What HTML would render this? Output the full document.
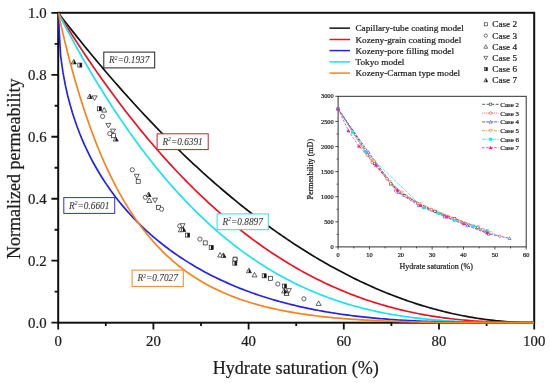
<!DOCTYPE html><html><head><meta charset="utf-8"><title>Normalized permeability vs hydrate saturation</title>
<style>html,body{margin:0;padding:0;background:#fff}svg{display:block}text{font-family:"Liberation Serif","Times New Roman",serif;fill:#1c1c1c;stroke:#1c1c1c;stroke-width:0.22px}text.r{fill:#383838;stroke:#383838;stroke-width:0.08px}</style></head><body>
<svg width="550" height="383" viewBox="0 0 550 383">
<rect width="550" height="383" fill="#fff"/>
<defs><clipPath id="c"><rect x="58.2" y="12.8" width="476.00000000000006" height="311.09999999999997"/></clipPath></defs>
<rect x="58.2" y="12.8" width="476.00000000000006" height="309.9" fill="none" stroke="#111" stroke-width="2"/>
<path d="M58.20,322.7 V329.5 M105.80,322.7 V326.09999999999997 M153.40,322.7 V329.5 M201.00,322.7 V326.09999999999997 M248.60,322.7 V329.5 M296.20,322.7 V326.09999999999997 M343.80,322.7 V329.5 M391.40,322.7 V326.09999999999997 M439.00,322.7 V329.5 M486.60,322.7 V326.09999999999997 M534.20,322.7 V329.5 M58.2,322.70 H51.400000000000006 M58.2,291.71 H54.6 M58.2,260.72 H51.400000000000006 M58.2,229.73 H54.6 M58.2,198.74 H51.400000000000006 M58.2,167.75 H54.6 M58.2,136.76 H51.400000000000006 M58.2,105.77 H54.6 M58.2,74.78 H51.400000000000006 M58.2,43.79 H54.6 M58.2,12.80 H51.400000000000006" stroke="#111" stroke-width="1.8" fill="none"/>
<g fill="none" stroke-width="1.7" stroke-linejoin="round" clip-path="url(#c)">
<path d="M58.20,12.80 L60.58,15.89 L62.96,18.97 L65.34,22.03 L67.72,25.07 L70.10,28.10 L72.48,31.12 L74.86,34.11 L77.24,37.10 L79.62,40.06 L82.00,43.02 L84.38,45.95 L86.76,48.87 L89.14,51.78 L91.52,54.67 L93.90,57.54 L96.28,60.40 L98.66,63.24 L101.04,66.07 L103.42,68.88 L105.80,71.68 L108.18,74.46 L110.56,77.23 L112.94,79.98 L115.32,82.71 L117.70,85.43 L120.08,88.14 L122.46,90.83 L124.84,93.50 L127.22,96.16 L129.60,98.80 L131.98,101.42 L134.36,104.03 L136.74,106.63 L139.12,109.21 L141.50,111.77 L143.88,114.32 L146.26,116.86 L148.64,119.37 L151.02,121.88 L153.40,124.36 L155.78,126.84 L158.16,129.29 L160.54,131.73 L162.92,134.16 L165.30,136.57 L167.68,138.96 L170.06,141.34 L172.44,143.70 L174.82,146.05 L177.20,148.38 L179.58,150.70 L181.96,153.00 L184.34,155.28 L186.72,157.55 L189.10,159.81 L191.48,162.05 L193.86,164.27 L196.24,166.48 L198.62,168.67 L201.00,170.85 L203.38,173.01 L205.76,175.16 L208.14,177.29 L210.52,179.40 L212.90,181.50 L215.28,183.59 L217.66,185.65 L220.04,187.71 L222.42,189.75 L224.80,191.77 L227.18,193.77 L229.56,195.76 L231.94,197.74 L234.32,199.70 L236.70,201.65 L239.08,203.57 L241.46,205.49 L243.84,207.39 L246.22,209.27 L248.60,211.14 L250.98,212.99 L253.36,214.82 L255.74,216.64 L258.12,218.45 L260.50,220.24 L262.88,222.01 L265.26,223.77 L267.64,225.52 L270.02,227.24 L272.40,228.96 L274.78,230.65 L277.16,232.33 L279.54,234.00 L281.92,235.65 L284.30,237.28 L286.68,238.90 L289.06,240.51 L291.44,242.10 L293.82,243.67 L296.20,245.22 L298.58,246.77 L300.96,248.29 L303.34,249.80 L305.72,251.30 L308.10,252.78 L310.48,254.24 L312.86,255.69 L315.24,257.13 L317.62,258.54 L320.00,259.95 L322.38,261.33 L324.76,262.70 L327.14,264.06 L329.52,265.40 L331.90,266.72 L334.28,268.03 L336.66,269.33 L339.04,270.61 L341.42,271.87 L343.80,273.12 L346.18,274.35 L348.56,275.56 L350.94,276.77 L353.32,277.95 L355.70,279.12 L358.08,280.27 L360.46,281.41 L362.84,282.54 L365.22,283.64 L367.60,284.74 L369.98,285.81 L372.36,286.88 L374.74,287.92 L377.12,288.95 L379.50,289.97 L381.88,290.97 L384.26,291.95 L386.64,292.92 L389.02,293.87 L391.40,294.81 L393.78,295.73 L396.16,296.64 L398.54,297.53 L400.92,298.40 L403.30,299.26 L405.68,300.11 L408.06,300.94 L410.44,301.75 L412.82,302.55 L415.20,303.33 L417.58,304.10 L419.96,304.85 L422.34,305.59 L424.72,306.31 L427.10,307.01 L429.48,307.70 L431.86,308.37 L434.24,309.03 L436.62,309.68 L439.00,310.30 L441.38,310.92 L443.76,311.51 L446.14,312.09 L448.52,312.66 L450.90,313.21 L453.28,313.74 L455.66,314.26 L458.04,314.77 L460.42,315.25 L462.80,315.73 L465.18,316.18 L467.56,316.63 L469.94,317.05 L472.32,317.46 L474.70,317.86 L477.08,318.24 L479.46,318.60 L481.84,318.95 L484.22,319.28 L486.60,319.60 L488.98,319.90 L491.36,320.19 L493.74,320.46 L496.12,320.72 L498.50,320.96 L500.88,321.18 L503.26,321.39 L505.64,321.58 L508.02,321.76 L510.40,321.93 L512.78,322.07 L515.16,322.20 L517.54,322.32 L519.92,322.42 L522.30,322.51 L524.68,322.58 L527.06,322.63 L529.44,322.67 L531.82,322.69 L534.20,322.70" stroke="#111111"/>
<path d="M58.20,12.80 L60.58,16.66 L62.96,20.49 L65.34,24.29 L67.72,28.06 L70.10,31.81 L72.48,35.52 L74.86,39.21 L77.24,42.87 L79.62,46.50 L82.00,50.10 L84.38,53.67 L86.76,57.21 L89.14,60.73 L91.52,64.22 L93.90,67.68 L96.28,71.11 L98.66,74.52 L101.04,77.89 L103.42,81.24 L105.80,84.56 L108.18,87.86 L110.56,91.12 L112.94,94.36 L115.32,97.57 L117.70,100.76 L120.08,103.91 L122.46,107.04 L124.84,110.15 L127.22,113.22 L129.60,116.27 L131.98,119.29 L134.36,122.29 L136.74,125.26 L139.12,128.20 L141.50,131.12 L143.88,134.01 L146.26,136.87 L148.64,139.71 L151.02,142.52 L153.40,145.30 L155.78,148.06 L158.16,150.79 L160.54,153.50 L162.92,156.18 L165.30,158.84 L167.68,161.47 L170.06,164.07 L172.44,166.65 L174.82,169.21 L177.20,171.74 L179.58,174.24 L181.96,176.72 L184.34,179.17 L186.72,181.60 L189.10,184.00 L191.48,186.38 L193.86,188.74 L196.24,191.07 L198.62,193.37 L201.00,195.65 L203.38,197.91 L205.76,200.14 L208.14,202.35 L210.52,204.53 L212.90,206.69 L215.28,208.83 L217.66,210.94 L220.04,213.03 L222.42,215.10 L224.80,217.14 L227.18,219.16 L229.56,221.15 L231.94,223.12 L234.32,225.07 L236.70,227.00 L239.08,228.90 L241.46,230.78 L243.84,232.64 L246.22,234.47 L248.60,236.28 L250.98,238.07 L253.36,239.84 L255.74,241.58 L258.12,243.31 L260.50,245.01 L262.88,246.68 L265.26,248.34 L267.64,249.97 L270.02,251.59 L272.40,253.18 L274.78,254.75 L277.16,256.29 L279.54,257.82 L281.92,259.33 L284.30,260.81 L286.68,262.27 L289.06,263.72 L291.44,265.14 L293.82,266.54 L296.20,267.92 L298.58,269.28 L300.96,270.62 L303.34,271.93 L305.72,273.23 L308.10,274.51 L310.48,275.77 L312.86,277.01 L315.24,278.22 L317.62,279.42 L320.00,280.60 L322.38,281.76 L324.76,282.90 L327.14,284.02 L329.52,285.13 L331.90,286.21 L334.28,287.27 L336.66,288.32 L339.04,289.34 L341.42,290.35 L343.80,291.34 L346.18,292.31 L348.56,293.26 L350.94,294.20 L353.32,295.11 L355.70,296.01 L358.08,296.89 L360.46,297.76 L362.84,298.60 L365.22,299.43 L367.60,300.24 L369.98,301.03 L372.36,301.81 L374.74,302.57 L377.12,303.31 L379.50,304.04 L381.88,304.75 L384.26,305.44 L386.64,306.12 L389.02,306.78 L391.40,307.42 L393.78,308.05 L396.16,308.66 L398.54,309.26 L400.92,309.84 L403.30,310.41 L405.68,310.96 L408.06,311.50 L410.44,312.02 L412.82,312.52 L415.20,313.02 L417.58,313.49 L419.96,313.96 L422.34,314.40 L424.72,314.84 L427.10,315.26 L429.48,315.66 L431.86,316.06 L434.24,316.44 L436.62,316.80 L439.00,317.16 L441.38,317.50 L443.76,317.82 L446.14,318.14 L448.52,318.44 L450.90,318.73 L453.28,319.01 L455.66,319.27 L458.04,319.53 L460.42,319.77 L462.80,320.00 L465.18,320.22 L467.56,320.43 L469.94,320.62 L472.32,320.81 L474.70,320.99 L477.08,321.15 L479.46,321.31 L481.84,321.46 L484.22,321.59 L486.60,321.72 L488.98,321.84 L491.36,321.95 L493.74,322.05 L496.12,322.14 L498.50,322.22 L500.88,322.30 L503.26,322.37 L505.64,322.43 L508.02,322.48 L510.40,322.53 L512.78,322.57 L515.16,322.60 L517.54,322.63 L519.92,322.65 L522.30,322.67 L524.68,322.68 L527.06,322.69 L529.44,322.70 L531.82,322.70 L534.20,322.70" stroke="#f01020"/>
<path d="M58.20,12.80 L60.58,17.43 L62.96,22.00 L65.34,26.54 L67.72,31.02 L70.10,35.47 L72.48,39.86 L74.86,44.21 L77.24,48.52 L79.62,52.78 L82.00,57.00 L84.38,61.17 L86.76,65.30 L89.14,69.39 L91.52,73.43 L93.90,77.43 L96.28,81.38 L98.66,85.30 L101.04,89.17 L103.42,93.00 L105.80,96.78 L108.18,100.53 L110.56,104.23 L112.94,107.89 L115.32,111.51 L117.70,115.09 L120.08,118.63 L122.46,122.13 L124.84,125.59 L127.22,129.00 L129.60,132.38 L131.98,135.72 L134.36,139.02 L136.74,142.28 L139.12,145.50 L141.50,148.69 L143.88,151.83 L146.26,154.94 L148.64,158.01 L151.02,161.04 L153.40,164.03 L155.78,166.99 L158.16,169.91 L160.54,172.79 L162.92,175.64 L165.30,178.45 L167.68,181.22 L170.06,183.96 L172.44,186.66 L174.82,189.33 L177.20,191.96 L179.58,194.56 L181.96,197.12 L184.34,199.65 L186.72,202.14 L189.10,204.60 L191.48,207.03 L193.86,209.42 L196.24,211.78 L198.62,214.11 L201.00,216.40 L203.38,218.67 L205.76,220.90 L208.14,223.09 L210.52,225.26 L212.90,227.39 L215.28,229.49 L217.66,231.56 L220.04,233.60 L222.42,235.61 L224.80,237.59 L227.18,239.54 L229.56,241.46 L231.94,243.35 L234.32,245.21 L236.70,247.04 L239.08,248.84 L241.46,250.61 L243.84,252.36 L246.22,254.07 L248.60,255.76 L250.98,257.42 L253.36,259.05 L255.74,260.66 L258.12,262.23 L260.50,263.79 L262.88,265.31 L265.26,266.81 L267.64,268.28 L270.02,269.72 L272.40,271.14 L274.78,272.53 L277.16,273.90 L279.54,275.24 L281.92,276.56 L284.30,277.86 L286.68,279.13 L289.06,280.37 L291.44,281.59 L293.82,282.79 L296.20,283.96 L298.58,285.11 L300.96,286.24 L303.34,287.35 L305.72,288.43 L308.10,289.49 L310.48,290.53 L312.86,291.54 L315.24,292.54 L317.62,293.51 L320.00,294.46 L322.38,295.39 L324.76,296.30 L327.14,297.19 L329.52,298.06 L331.90,298.91 L334.28,299.74 L336.66,300.55 L339.04,301.34 L341.42,302.11 L343.80,302.87 L346.18,303.60 L348.56,304.32 L350.94,305.02 L353.32,305.70 L355.70,306.36 L358.08,307.00 L360.46,307.63 L362.84,308.24 L365.22,308.84 L367.60,309.41 L369.98,309.97 L372.36,310.52 L374.74,311.05 L377.12,311.56 L379.50,312.06 L381.88,312.55 L384.26,313.01 L386.64,313.47 L389.02,313.91 L391.40,314.33 L393.78,314.74 L396.16,315.14 L398.54,315.53 L400.92,315.90 L403.30,316.26 L405.68,316.60 L408.06,316.93 L410.44,317.25 L412.82,317.56 L415.20,317.86 L417.58,318.14 L419.96,318.42 L422.34,318.68 L424.72,318.93 L427.10,319.17 L429.48,319.40 L431.86,319.62 L434.24,319.83 L436.62,320.03 L439.00,320.22 L441.38,320.40 L443.76,320.57 L446.14,320.74 L448.52,320.89 L450.90,321.04 L453.28,321.18 L455.66,321.31 L458.04,321.43 L460.42,321.55 L462.80,321.65 L465.18,321.76 L467.56,321.85 L469.94,321.94 L472.32,322.02 L474.70,322.09 L477.08,322.16 L479.46,322.23 L481.84,322.29 L484.22,322.34 L486.60,322.39 L488.98,322.43 L491.36,322.47 L493.74,322.51 L496.12,322.54 L498.50,322.57 L500.88,322.59 L503.26,322.61 L505.64,322.63 L508.02,322.65 L510.40,322.66 L512.78,322.67 L515.16,322.68 L517.54,322.69 L519.92,322.69 L522.30,322.70 L524.68,322.70 L527.06,322.70 L529.44,322.70 L531.82,322.70 L534.20,322.70" stroke="#18e4f0"/>
<path d="M58.20,12.80 L60.58,55.48 L62.96,72.45 L65.34,85.18 L67.72,95.70 L70.10,104.81 L72.48,112.92 L74.86,120.26 L77.24,127.00 L79.62,133.25 L82.00,139.08 L84.38,144.56 L86.76,149.72 L89.14,154.62 L91.52,159.28 L93.90,163.73 L96.28,167.98 L98.66,172.05 L101.04,175.96 L103.42,179.72 L105.80,183.35 L108.18,186.85 L110.56,190.23 L112.94,193.49 L115.32,196.66 L117.70,199.73 L120.08,202.70 L122.46,205.59 L124.84,208.39 L127.22,211.12 L129.60,213.77 L131.98,216.35 L134.36,218.87 L136.74,221.32 L139.12,223.71 L141.50,226.03 L143.88,228.30 L146.26,230.52 L148.64,232.68 L151.02,234.80 L153.40,236.86 L155.78,238.87 L158.16,240.84 L160.54,242.77 L162.92,244.65 L165.30,246.49 L167.68,248.30 L170.06,250.06 L172.44,251.78 L174.82,253.47 L177.20,255.12 L179.58,256.74 L181.96,258.32 L184.34,259.87 L186.72,261.39 L189.10,262.87 L191.48,264.33 L193.86,265.75 L196.24,267.15 L198.62,268.51 L201.00,269.85 L203.38,271.16 L205.76,272.45 L208.14,273.71 L210.52,274.94 L212.90,276.15 L215.28,277.33 L217.66,278.49 L220.04,279.63 L222.42,280.74 L224.80,281.83 L227.18,282.90 L229.56,283.94 L231.94,284.97 L234.32,285.97 L236.70,286.95 L239.08,287.92 L241.46,288.86 L243.84,289.78 L246.22,290.69 L248.60,291.57 L250.98,292.44 L253.36,293.29 L255.74,294.12 L258.12,294.93 L260.50,295.72 L262.88,296.50 L265.26,297.26 L267.64,298.01 L270.02,298.74 L272.40,299.45 L274.78,300.15 L277.16,300.83 L279.54,301.50 L281.92,302.15 L284.30,302.79 L286.68,303.41 L289.06,304.02 L291.44,304.61 L293.82,305.19 L296.20,305.76 L298.58,306.31 L300.96,306.85 L303.34,307.38 L305.72,307.89 L308.10,308.40 L310.48,308.89 L312.86,309.36 L315.24,309.83 L317.62,310.28 L320.00,310.73 L322.38,311.16 L324.76,311.58 L327.14,311.99 L329.52,312.39 L331.90,312.77 L334.28,313.15 L336.66,313.52 L339.04,313.88 L341.42,314.22 L343.80,314.56 L346.18,314.89 L348.56,315.21 L350.94,315.52 L353.32,315.81 L355.70,316.11 L358.08,316.39 L360.46,316.66 L362.84,316.93 L365.22,317.18 L367.60,317.43 L369.98,317.67 L372.36,317.91 L374.74,318.13 L377.12,318.35 L379.50,318.56 L381.88,318.76 L384.26,318.96 L386.64,319.15 L389.02,319.33 L391.40,319.51 L393.78,319.68 L396.16,319.84 L398.54,319.99 L400.92,320.14 L403.30,320.29 L405.68,320.43 L408.06,320.56 L410.44,320.69 L412.82,320.81 L415.20,320.93 L417.58,321.04 L419.96,321.15 L422.34,321.25 L424.72,321.34 L427.10,321.44 L429.48,321.53 L431.86,321.61 L434.24,321.69 L436.62,321.76 L439.00,321.83 L441.38,321.90 L443.76,321.97 L446.14,322.03 L448.52,322.08 L450.90,322.14 L453.28,322.19 L455.66,322.23 L458.04,322.28 L460.42,322.32 L462.80,322.35 L465.18,322.39 L467.56,322.42 L469.94,322.45 L472.32,322.48 L474.70,322.51 L477.08,322.53 L479.46,322.55 L481.84,322.57 L484.22,322.59 L486.60,322.60 L488.98,322.62 L491.36,322.63 L493.74,322.64 L496.12,322.65 L498.50,322.66 L500.88,322.67 L503.26,322.68 L505.64,322.68 L508.02,322.69 L510.40,322.69 L512.78,322.69 L515.16,322.69 L517.54,322.70 L519.92,322.70 L522.30,322.70 L524.68,322.70 L527.06,322.70 L529.44,322.70 L531.82,322.70 L534.20,322.70" stroke="#2424e8"/>
<path d="M58.20,12.80 L60.58,23.44 L62.96,33.68 L65.34,43.54 L67.72,53.03 L70.10,62.17 L72.48,70.98 L74.86,79.46 L77.24,87.64 L79.62,95.52 L82.00,103.11 L84.38,110.44 L86.76,117.50 L89.14,124.32 L91.52,130.89 L93.90,137.24 L96.28,143.36 L98.66,149.27 L101.04,154.98 L103.42,160.49 L105.80,165.81 L108.18,170.95 L110.56,175.92 L112.94,180.72 L115.32,185.35 L117.70,189.83 L120.08,194.16 L122.46,198.35 L124.84,202.39 L127.22,206.30 L129.60,210.09 L131.98,213.74 L134.36,217.28 L136.74,220.71 L139.12,224.02 L141.50,227.22 L143.88,230.32 L146.26,233.32 L148.64,236.22 L151.02,239.03 L153.40,241.75 L155.78,244.38 L158.16,246.92 L160.54,249.39 L162.92,251.78 L165.30,254.09 L167.68,256.33 L170.06,258.49 L172.44,260.59 L174.82,262.63 L177.20,264.59 L179.58,266.50 L181.96,268.35 L184.34,270.13 L186.72,271.87 L189.10,273.54 L191.48,275.17 L193.86,276.74 L196.24,278.27 L198.62,279.75 L201.00,281.18 L203.38,282.56 L205.76,283.91 L208.14,285.21 L210.52,286.47 L212.90,287.69 L215.28,288.88 L217.66,290.02 L220.04,291.13 L222.42,292.21 L224.80,293.25 L227.18,294.26 L229.56,295.24 L231.94,296.19 L234.32,297.11 L236.70,297.99 L239.08,298.86 L241.46,299.69 L243.84,300.50 L246.22,301.28 L248.60,302.04 L250.98,302.77 L253.36,303.49 L255.74,304.17 L258.12,304.84 L260.50,305.49 L262.88,306.11 L265.26,306.72 L267.64,307.30 L270.02,307.87 L272.40,308.42 L274.78,308.95 L277.16,309.46 L279.54,309.96 L281.92,310.44 L284.30,310.91 L286.68,311.36 L289.06,311.79 L291.44,312.21 L293.82,312.62 L296.20,313.02 L298.58,313.40 L300.96,313.76 L303.34,314.12 L305.72,314.46 L308.10,314.80 L310.48,315.12 L312.86,315.43 L315.24,315.73 L317.62,316.02 L320.00,316.30 L322.38,316.57 L324.76,316.83 L327.14,317.08 L329.52,317.32 L331.90,317.55 L334.28,317.78 L336.66,318.00 L339.04,318.21 L341.42,318.41 L343.80,318.60 L346.18,318.79 L348.56,318.97 L350.94,319.14 L353.32,319.31 L355.70,319.47 L358.08,319.63 L360.46,319.78 L362.84,319.92 L365.22,320.06 L367.60,320.19 L369.98,320.32 L372.36,320.44 L374.74,320.55 L377.12,320.67 L379.50,320.77 L381.88,320.88 L384.26,320.98 L386.64,321.07 L389.02,321.16 L391.40,321.25 L393.78,321.33 L396.16,321.41 L398.54,321.49 L400.92,321.56 L403.30,321.63 L405.68,321.69 L408.06,321.75 L410.44,321.81 L412.82,321.87 L415.20,321.93 L417.58,321.98 L419.96,322.03 L422.34,322.07 L424.72,322.12 L427.10,322.16 L429.48,322.20 L431.86,322.23 L434.24,322.27 L436.62,322.30 L439.00,322.33 L441.38,322.36 L443.76,322.39 L446.14,322.42 L448.52,322.44 L450.90,322.46 L453.28,322.48 L455.66,322.50 L458.04,322.52 L460.42,322.54 L462.80,322.56 L465.18,322.57 L467.56,322.59 L469.94,322.60 L472.32,322.61 L474.70,322.62 L477.08,322.63 L479.46,322.64 L481.84,322.65 L484.22,322.65 L486.60,322.66 L488.98,322.67 L491.36,322.67 L493.74,322.68 L496.12,322.68 L498.50,322.68 L500.88,322.69 L503.26,322.69 L505.64,322.69 L508.02,322.69 L510.40,322.70 L512.78,322.70 L515.16,322.70 L517.54,322.70 L519.92,322.70 L522.30,322.70 L524.68,322.70 L527.06,322.70 L529.44,322.70 L531.82,322.70 L534.20,322.70" stroke="#f68418"/>
</g>
<g font-size="14.8" text-anchor="middle">
<text x="58.2" y="345.6">0</text>
<text x="153.4" y="345.6">20</text>
<text x="248.6" y="345.6">40</text>
<text x="343.8" y="345.6">60</text>
<text x="439.0" y="345.6">80</text>
<text x="534.2" y="345.6">100</text>
</g><g font-size="14.8" text-anchor="end">
<text x="46.6" y="327.5">0.0</text>
<text x="46.6" y="265.5">0.2</text>
<text x="46.6" y="203.5">0.4</text>
<text x="46.6" y="141.6">0.6</text>
<text x="46.6" y="79.6">0.8</text>
<text x="46.6" y="17.6">1.0</text>
</g>
<text x="295.75" y="373.6" font-size="18.15" text-anchor="middle">Hydrate saturation (%)</text>
<text transform="translate(19.8,168.8) rotate(-90)" font-size="18" text-anchor="middle">Normalized permeability</text>
<g>
<rect x="111.40" y="133.70" width="4.00" height="4.00" fill="#fff" stroke="#222" stroke-width="0.7"/>
<rect x="136.20" y="179.30" width="4.00" height="4.00" fill="#fff" stroke="#222" stroke-width="0.7"/>
<rect x="156.60" y="205.30" width="4.00" height="4.00" fill="#fff" stroke="#222" stroke-width="0.7"/>
<rect x="203.20" y="240.90" width="4.00" height="4.00" fill="#fff" stroke="#222" stroke-width="0.7"/>
<rect x="233.10" y="257.10" width="4.00" height="4.00" fill="#fff" stroke="#222" stroke-width="0.7"/>
<rect x="268.50" y="276.30" width="4.00" height="4.00" fill="#fff" stroke="#222" stroke-width="0.7"/>
<rect x="284.60" y="291.00" width="4.00" height="4.00" fill="#fff" stroke="#222" stroke-width="0.7"/>
<circle cx="102.60" cy="116.40" r="2.10" fill="#fff" stroke="#222" stroke-width="0.7"/>
<circle cx="109.80" cy="133.60" r="2.10" fill="#fff" stroke="#222" stroke-width="0.7"/>
<circle cx="132.30" cy="169.80" r="2.10" fill="#fff" stroke="#222" stroke-width="0.7"/>
<circle cx="145.40" cy="197.30" r="2.10" fill="#fff" stroke="#222" stroke-width="0.7"/>
<circle cx="161.60" cy="209.20" r="2.10" fill="#fff" stroke="#222" stroke-width="0.7"/>
<circle cx="179.80" cy="226.00" r="2.10" fill="#fff" stroke="#222" stroke-width="0.7"/>
<circle cx="199.90" cy="239.10" r="2.10" fill="#fff" stroke="#222" stroke-width="0.7"/>
<circle cx="235.00" cy="259.30" r="2.10" fill="#fff" stroke="#222" stroke-width="0.7"/>
<circle cx="277.80" cy="284.00" r="2.10" fill="#fff" stroke="#222" stroke-width="0.7"/>
<circle cx="303.90" cy="298.80" r="2.10" fill="#fff" stroke="#222" stroke-width="0.7"/>
<path d="M104.20,107.60 L106.70,112.10 L101.70,112.10 Z" fill="#fff" stroke="#222" stroke-width="0.7"/>
<path d="M149.40,198.00 L151.90,202.50 L146.90,202.50 Z" fill="#fff" stroke="#222" stroke-width="0.7"/>
<path d="M180.70,227.30 L183.20,231.80 L178.20,231.80 Z" fill="#fff" stroke="#222" stroke-width="0.7"/>
<path d="M220.10,252.50 L222.60,257.00 L217.60,257.00 Z" fill="#fff" stroke="#222" stroke-width="0.7"/>
<path d="M254.50,272.40 L257.00,276.90 L252.00,276.90 Z" fill="#fff" stroke="#222" stroke-width="0.7"/>
<path d="M286.60,290.90 L289.10,295.40 L284.10,295.40 Z" fill="#fff" stroke="#222" stroke-width="0.7"/>
<path d="M318.60,300.90 L321.10,305.40 L316.10,305.40 Z" fill="#fff" stroke="#222" stroke-width="0.7"/>
<path d="M94.60,100.40 L97.10,95.90 L92.10,95.90 Z" fill="#fff" stroke="#222" stroke-width="0.7"/>
<path d="M108.40,127.90 L110.90,123.40 L105.90,123.40 Z" fill="#fff" stroke="#222" stroke-width="0.7"/>
<path d="M113.00,133.60 L115.50,129.10 L110.50,129.10 Z" fill="#fff" stroke="#222" stroke-width="0.7"/>
<path d="M136.70,178.80 L139.20,174.30 L134.20,174.30 Z" fill="#fff" stroke="#222" stroke-width="0.7"/>
<path d="M155.00,202.70 L157.50,198.20 L152.50,198.20 Z" fill="#fff" stroke="#222" stroke-width="0.7"/>
<path d="M182.60,228.20 L185.10,223.70 L180.10,223.70 Z" fill="#fff" stroke="#222" stroke-width="0.7"/>
<path d="M288.90,293.10 L291.40,288.60 L286.40,288.60 Z" fill="#fff" stroke="#222" stroke-width="0.7"/>
<rect x="77.80" y="63.10" width="4.00" height="4.00" fill="#fff" stroke="#222" stroke-width="0.7"/><rect x="79.50" y="63.10" width="2.30" height="4.00" fill="#111"/>
<rect x="97.30" y="106.80" width="4.00" height="4.00" fill="#fff" stroke="#222" stroke-width="0.7"/><rect x="99.00" y="106.80" width="2.30" height="4.00" fill="#111"/>
<rect x="185.60" y="233.10" width="4.00" height="4.00" fill="#fff" stroke="#222" stroke-width="0.7"/><rect x="187.30" y="233.10" width="2.30" height="4.00" fill="#111"/>
<rect x="209.20" y="245.60" width="4.00" height="4.00" fill="#fff" stroke="#222" stroke-width="0.7"/><rect x="210.90" y="245.60" width="2.30" height="4.00" fill="#111"/>
<rect x="232.80" y="261.20" width="4.00" height="4.00" fill="#fff" stroke="#222" stroke-width="0.7"/><rect x="234.50" y="261.20" width="2.30" height="4.00" fill="#111"/>
<rect x="262.20" y="273.80" width="4.00" height="4.00" fill="#fff" stroke="#222" stroke-width="0.7"/><rect x="263.90" y="273.80" width="2.30" height="4.00" fill="#111"/>
<rect x="282.50" y="284.10" width="4.00" height="4.00" fill="#fff" stroke="#222" stroke-width="0.7"/><rect x="284.20" y="284.10" width="2.30" height="4.00" fill="#111"/>
<path d="M73.80,59.40 L76.30,63.90 L71.30,63.90 Z" fill="#fff" stroke="#222" stroke-width="0.7"/><path d="M73.80,59.40 L76.30,63.90 L73.50,63.90 Z" fill="#111"/>
<path d="M89.80,94.00 L92.30,98.50 L87.30,98.50 Z" fill="#fff" stroke="#222" stroke-width="0.7"/><path d="M89.80,94.00 L92.30,98.50 L89.50,98.50 Z" fill="#111"/>
<path d="M115.70,136.60 L118.20,141.10 L113.20,141.10 Z" fill="#fff" stroke="#222" stroke-width="0.7"/><path d="M115.70,136.60 L118.20,141.10 L115.40,141.10 Z" fill="#111"/>
<path d="M148.60,192.00 L151.10,196.50 L146.10,196.50 Z" fill="#fff" stroke="#222" stroke-width="0.7"/><path d="M148.60,192.00 L151.10,196.50 L148.30,196.50 Z" fill="#111"/>
<path d="M183.20,226.90 L185.70,231.40 L180.70,231.40 Z" fill="#fff" stroke="#222" stroke-width="0.7"/><path d="M183.20,226.90 L185.70,231.40 L182.90,231.40 Z" fill="#111"/>
<path d="M223.40,252.90 L225.90,257.40 L220.90,257.40 Z" fill="#fff" stroke="#222" stroke-width="0.7"/><path d="M223.40,252.90 L225.90,257.40 L223.10,257.40 Z" fill="#111"/>
<path d="M248.90,268.20 L251.40,272.70 L246.40,272.70 Z" fill="#fff" stroke="#222" stroke-width="0.7"/><path d="M248.90,268.20 L251.40,272.70 L248.60,272.70 Z" fill="#111"/>
<path d="M284.20,288.40 L286.70,292.90 L281.70,292.90 Z" fill="#fff" stroke="#222" stroke-width="0.7"/><path d="M284.20,288.40 L286.70,292.90 L283.90,292.90 Z" fill="#111"/>
</g>
<rect x="103.8" y="52.1" width="50.9" height="15.8" fill="#fff" stroke="#222" stroke-width="1"/>
<text x="129.2" y="63.2" font-size="9.3" font-style="italic" text-anchor="middle" class="r">R<tspan font-size="5.5" dy="-3.6">2</tspan><tspan dy="3.6">=0.1937</tspan></text>
<rect x="157.1" y="133.8" width="51.1" height="15.8" fill="#fff" stroke="#c8202c" stroke-width="1"/>
<text x="182.6" y="144.9" font-size="9.3" font-style="italic" text-anchor="middle" class="r">R<tspan font-size="5.5" dy="-3.6">2</tspan><tspan dy="3.6">=0.6391</tspan></text>
<rect x="63.8" y="197.6" width="50.9" height="15.8" fill="#fff" stroke="#3030d0" stroke-width="1"/>
<text x="89.2" y="208.7" font-size="9.3" font-style="italic" text-anchor="middle" class="r">R<tspan font-size="5.5" dy="-3.6">2</tspan><tspan dy="3.6">=0.6601</tspan></text>
<rect x="217.1" y="213.9" width="51.2" height="15.8" fill="#fff" stroke="#30dce8" stroke-width="1"/>
<text x="242.7" y="225.0" font-size="9.3" font-style="italic" text-anchor="middle" class="r">R<tspan font-size="5.5" dy="-3.6">2</tspan><tspan dy="3.6">=0.8897</tspan></text>
<rect x="132.1" y="270.1" width="51.2" height="16.3" fill="#fff" stroke="#f08828" stroke-width="1"/>
<text x="157.7" y="281.4" font-size="9.3" font-style="italic" text-anchor="middle" class="r">R<tspan font-size="5.5" dy="-3.6">2</tspan><tspan dy="3.6">=0.7027</tspan></text>
<path d="M329.5,28.15 H350" stroke="#111111" stroke-width="1.5"/>
<text x="355.4" y="31.1" font-size="9.25">Capillary-tube coating model</text>
<path d="M329.5,39.5 H350" stroke="#f01020" stroke-width="1.5"/>
<text x="355.4" y="42.5" font-size="9.25">Kozeny-grain coating model</text>
<path d="M329.5,50.6 H350" stroke="#2424e8" stroke-width="1.5"/>
<text x="355.4" y="53.6" font-size="9.25">Kozeny-pore filling model</text>
<path d="M329.5,61.9 H350" stroke="#18e4f0" stroke-width="1.5"/>
<text x="355.4" y="64.8" font-size="9.25">Tokyo model</text>
<path d="M329.5,73.1 H350" stroke="#f68418" stroke-width="1.5"/>
<text x="355.4" y="76.0" font-size="9.25">Kozeny-Carman type model</text>
<rect x="484.25" y="22.75" width="3.10" height="3.10" fill="#fff" stroke="#222" stroke-width="0.6"/>
<text x="492.3" y="27.3" font-size="9.2">Case 2</text>
<circle cx="485.80" cy="35.60" r="1.63" fill="#fff" stroke="#222" stroke-width="0.6"/>
<text x="492.3" y="38.6" font-size="9.2">Case 3</text>
<path d="M485.80,44.76 L487.74,48.25 L483.86,48.25 Z" fill="#fff" stroke="#222" stroke-width="0.6"/>
<text x="492.3" y="49.7" font-size="9.2">Case 4</text>
<path d="M485.80,59.84 L487.74,56.35 L483.86,56.35 Z" fill="#fff" stroke="#222" stroke-width="0.6"/>
<text x="492.3" y="60.9" font-size="9.2">Case 5</text>
<rect x="484.25" y="67.65" width="3.10" height="3.10" fill="#fff" stroke="#222" stroke-width="0.6"/><rect x="485.50" y="67.65" width="1.85" height="3.10" fill="#111"/>
<text x="492.3" y="72.2" font-size="9.2">Case 6</text>
<path d="M485.80,78.36 L487.74,81.85 L483.86,81.85 Z" fill="#fff" stroke="#222" stroke-width="0.6"/><path d="M485.80,78.36 L487.74,81.85 L485.50,81.85 Z" fill="#111"/>
<text x="492.3" y="83.3" font-size="9.2">Case 7</text>
<rect x="338.1" y="96.3" width="188.1" height="150.6" fill="#fff" stroke="#262626" stroke-width="0.95"/>
<path d="M338.10,246.9 V249.5 M353.78,246.9 V248.4 M369.45,246.9 V249.5 M385.12,246.9 V248.4 M400.80,246.9 V249.5 M416.48,246.9 V248.4 M432.15,246.9 V249.5 M447.83,246.9 V248.4 M463.50,246.9 V249.5 M479.18,246.9 V248.4 M494.85,246.9 V249.5 M510.53,246.9 V248.4 M526.20,246.9 V249.5 M338.1,246.90 H335.3 M338.1,234.35 H336.6 M338.1,221.80 H335.3 M338.1,209.25 H336.6 M338.1,196.70 H335.3 M338.1,184.15 H336.6 M338.1,171.60 H335.3 M338.1,159.05 H336.6 M338.1,146.50 H335.3 M338.1,133.95 H336.6 M338.1,121.40 H335.3 M338.1,108.85 H336.6 M338.1,96.30 H335.3" stroke="#262626" stroke-width="0.8" fill="none"/>
<g font-size="6.3" text-anchor="middle">
<text x="338.1" y="256.8">0</text>
<text x="369.5" y="256.8">10</text>
<text x="400.8" y="256.8">20</text>
<text x="432.2" y="256.8">30</text>
<text x="463.5" y="256.8">40</text>
<text x="494.9" y="256.8">50</text>
<text x="526.2" y="256.8">60</text>
</g><g font-size="6.3" text-anchor="end">
<text x="333.6" y="249.0">0</text>
<text x="333.6" y="223.9">500</text>
<text x="333.6" y="198.8">1000</text>
<text x="333.6" y="173.7">1500</text>
<text x="333.6" y="148.6">2000</text>
<text x="333.6" y="123.5">2500</text>
<text x="333.6" y="98.4">3000</text>
</g>
<text x="436.2" y="268.7" font-size="8.0" text-anchor="middle">Hydrate saturation (%)</text>
<text transform="translate(313.2,169.2) rotate(-90)" font-size="8.05" text-anchor="middle">Permeability (mD)</text>
<path d="M338.10,108.85 L374.46,163.60 L390.79,183.91 L404.22,195.49 L434.92,211.35 L454.61,218.57 L477.92,227.12 L488.53,233.67" fill="none" stroke="#333333" stroke-width="0.7" stroke-dasharray="3 1.5"/>
<path d="M338.10,108.85 L367.34,155.00 L372.08,162.66 L386.90,178.79 L395.53,191.04 L406.20,196.34 L418.19,203.82 L431.43,209.66 L454.54,218.66 L482.73,229.66 L499.92,236.25" fill="none" stroke="#f03030" stroke-width="0.7" stroke-dasharray="1 1"/>
<path d="M338.10,108.85 L368.40,152.19 L398.17,192.46 L418.78,205.52 L444.73,216.74 L467.39,225.61 L488.53,233.85 L509.60,238.30" fill="none" stroke="#3030e0" stroke-width="0.7" stroke-dasharray="3 1"/>
<path d="M338.10,108.85 L362.07,146.76 L371.16,159.01 L374.19,161.55 L389.80,181.68 L401.85,192.33 L420.03,203.69 L490.04,232.60" fill="none" stroke="#f08020" stroke-width="0.7" stroke-dasharray="3 1 1 1"/>
<path d="M338.10,108.85 L352.33,132.15 L365.17,151.61 L423.32,207.88 L438.87,213.45 L454.41,220.39 L473.77,226.01 L487.14,230.60" fill="none" stroke="#20e0f0" stroke-width="0.7" stroke-dasharray="4 1"/>
<path d="M338.10,108.85 L348.37,130.72 L358.91,146.14 L375.97,165.11 L397.64,189.79 L420.43,205.34 L446.90,216.92 L463.70,223.74 L486.95,232.73" fill="none" stroke="#f0208c" stroke-width="0.7" stroke-dasharray="2.5 1.5"/>
<rect x="336.95" y="107.70" width="2.3" height="2.3" fill="#fff" stroke="#333333" stroke-width="0.55"/>
<rect x="373.31" y="162.45" width="2.3" height="2.3" fill="#fff" stroke="#333333" stroke-width="0.55"/>
<rect x="389.64" y="182.76" width="2.3" height="2.3" fill="#fff" stroke="#333333" stroke-width="0.55"/>
<rect x="403.07" y="194.34" width="2.3" height="2.3" fill="#fff" stroke="#333333" stroke-width="0.55"/>
<rect x="433.77" y="210.20" width="2.3" height="2.3" fill="#fff" stroke="#333333" stroke-width="0.55"/>
<rect x="453.46" y="217.42" width="2.3" height="2.3" fill="#fff" stroke="#333333" stroke-width="0.55"/>
<rect x="476.77" y="225.97" width="2.3" height="2.3" fill="#fff" stroke="#333333" stroke-width="0.55"/>
<rect x="487.38" y="232.52" width="2.3" height="2.3" fill="#fff" stroke="#333333" stroke-width="0.55"/>
<circle cx="338.10" cy="108.85" r="1.26" fill="#fff" stroke="#f03030" stroke-width="0.55"/>
<circle cx="367.34" cy="155.00" r="1.26" fill="#fff" stroke="#f03030" stroke-width="0.55"/>
<circle cx="372.08" cy="162.66" r="1.26" fill="#fff" stroke="#f03030" stroke-width="0.55"/>
<circle cx="386.90" cy="178.79" r="1.26" fill="#fff" stroke="#f03030" stroke-width="0.55"/>
<circle cx="395.53" cy="191.04" r="1.26" fill="#fff" stroke="#f03030" stroke-width="0.55"/>
<circle cx="406.20" cy="196.34" r="1.26" fill="#fff" stroke="#f03030" stroke-width="0.55"/>
<circle cx="418.19" cy="203.82" r="1.26" fill="#fff" stroke="#f03030" stroke-width="0.55"/>
<circle cx="431.43" cy="209.66" r="1.26" fill="#fff" stroke="#f03030" stroke-width="0.55"/>
<circle cx="454.54" cy="218.66" r="1.26" fill="#fff" stroke="#f03030" stroke-width="0.55"/>
<circle cx="482.73" cy="229.66" r="1.26" fill="#fff" stroke="#f03030" stroke-width="0.55"/>
<circle cx="499.92" cy="236.25" r="1.26" fill="#fff" stroke="#f03030" stroke-width="0.55"/>
<path d="M338.10,107.35 L339.60,110.05 L336.61,110.05 Z" fill="#fff" stroke="#3030e0" stroke-width="0.55"/>
<path d="M368.40,150.70 L369.89,153.39 L366.90,153.39 Z" fill="#fff" stroke="#3030e0" stroke-width="0.55"/>
<path d="M398.17,190.97 L399.66,193.66 L396.67,193.66 Z" fill="#fff" stroke="#3030e0" stroke-width="0.55"/>
<path d="M418.78,204.02 L420.28,206.71 L417.29,206.71 Z" fill="#fff" stroke="#3030e0" stroke-width="0.55"/>
<path d="M444.73,215.25 L446.22,217.94 L443.23,217.94 Z" fill="#fff" stroke="#3030e0" stroke-width="0.55"/>
<path d="M467.39,224.11 L468.88,226.80 L465.89,226.80 Z" fill="#fff" stroke="#3030e0" stroke-width="0.55"/>
<path d="M488.53,232.35 L490.02,235.04 L487.03,235.04 Z" fill="#fff" stroke="#3030e0" stroke-width="0.55"/>
<path d="M509.60,236.81 L511.10,239.50 L508.11,239.50 Z" fill="#fff" stroke="#3030e0" stroke-width="0.55"/>
<path d="M338.10,110.34 L339.60,107.65 L336.61,107.65 Z" fill="#fff" stroke="#f08020" stroke-width="0.55"/>
<path d="M362.07,148.25 L363.57,145.56 L360.58,145.56 Z" fill="#fff" stroke="#f08020" stroke-width="0.55"/>
<path d="M371.16,160.50 L372.66,157.81 L369.67,157.81 Z" fill="#fff" stroke="#f08020" stroke-width="0.55"/>
<path d="M374.19,163.04 L375.69,160.35 L372.70,160.35 Z" fill="#fff" stroke="#f08020" stroke-width="0.55"/>
<path d="M389.80,183.18 L391.30,180.49 L388.31,180.49 Z" fill="#fff" stroke="#f08020" stroke-width="0.55"/>
<path d="M401.85,193.83 L403.35,191.13 L400.36,191.13 Z" fill="#fff" stroke="#f08020" stroke-width="0.55"/>
<path d="M420.03,205.18 L421.53,202.49 L418.54,202.49 Z" fill="#fff" stroke="#f08020" stroke-width="0.55"/>
<path d="M490.04,234.10 L491.54,231.40 L488.55,231.40 Z" fill="#fff" stroke="#f08020" stroke-width="0.55"/>
<rect x="336.95" y="107.70" width="2.3" height="2.3" fill="#20e0f0" stroke="#20e0f0" stroke-width="0.55"/>
<rect x="351.18" y="131.00" width="2.3" height="2.3" fill="#20e0f0" stroke="#20e0f0" stroke-width="0.55"/>
<rect x="364.02" y="150.46" width="2.3" height="2.3" fill="#20e0f0" stroke="#20e0f0" stroke-width="0.55"/>
<rect x="422.17" y="206.73" width="2.3" height="2.3" fill="#20e0f0" stroke="#20e0f0" stroke-width="0.55"/>
<rect x="437.72" y="212.30" width="2.3" height="2.3" fill="#20e0f0" stroke="#20e0f0" stroke-width="0.55"/>
<rect x="453.26" y="219.24" width="2.3" height="2.3" fill="#20e0f0" stroke="#20e0f0" stroke-width="0.55"/>
<rect x="472.62" y="224.86" width="2.3" height="2.3" fill="#20e0f0" stroke="#20e0f0" stroke-width="0.55"/>
<rect x="485.99" y="229.45" width="2.3" height="2.3" fill="#20e0f0" stroke="#20e0f0" stroke-width="0.55"/>
<path d="M338.10,107.35 L339.60,110.05 L336.61,110.05 Z" fill="#f0208c" stroke="#f0208c" stroke-width="0.55"/>
<path d="M348.37,129.23 L349.87,131.92 L346.88,131.92 Z" fill="#f0208c" stroke="#f0208c" stroke-width="0.55"/>
<path d="M358.91,144.64 L360.41,147.33 L357.42,147.33 Z" fill="#f0208c" stroke="#f0208c" stroke-width="0.55"/>
<path d="M375.97,163.62 L377.47,166.31 L374.48,166.31 Z" fill="#f0208c" stroke="#f0208c" stroke-width="0.55"/>
<path d="M397.64,188.30 L399.13,190.99 L396.14,190.99 Z" fill="#f0208c" stroke="#f0208c" stroke-width="0.55"/>
<path d="M420.43,203.84 L421.92,206.53 L418.93,206.53 Z" fill="#f0208c" stroke="#f0208c" stroke-width="0.55"/>
<path d="M446.90,215.43 L448.40,218.12 L445.41,218.12 Z" fill="#f0208c" stroke="#f0208c" stroke-width="0.55"/>
<path d="M463.70,222.24 L465.19,224.93 L462.20,224.93 Z" fill="#f0208c" stroke="#f0208c" stroke-width="0.55"/>
<path d="M486.95,231.24 L488.44,233.93 L485.45,233.93 Z" fill="#f0208c" stroke="#f0208c" stroke-width="0.55"/>
<path d="M482.2,104.3 H498.6" stroke="#333333" stroke-width="0.8" stroke-dasharray="3 1.5"/>
<rect x="489.40" y="103.10" width="2.4" height="2.4" fill="#fff" stroke="#333333" stroke-width="0.55"/>
<text x="500.3" y="106.7" font-size="6.9">Case 2</text>
<path d="M482.2,113.1 H498.6" stroke="#f03030" stroke-width="0.8" stroke-dasharray="1 1"/>
<circle cx="490.60" cy="113.10" r="1.32" fill="#fff" stroke="#f03030" stroke-width="0.55"/>
<text x="500.3" y="115.5" font-size="6.9">Case 3</text>
<path d="M482.2,121.9 H498.6" stroke="#3030e0" stroke-width="0.8" stroke-dasharray="3 1"/>
<path d="M490.60,120.34 L492.16,123.15 L489.04,123.15 Z" fill="#fff" stroke="#3030e0" stroke-width="0.55"/>
<text x="500.3" y="124.3" font-size="6.9">Case 4</text>
<path d="M482.2,130.7 H498.6" stroke="#f08020" stroke-width="0.8" stroke-dasharray="3 1 1 1"/>
<path d="M490.60,132.26 L492.16,129.45 L489.04,129.45 Z" fill="#fff" stroke="#f08020" stroke-width="0.55"/>
<text x="500.3" y="133.1" font-size="6.9">Case 5</text>
<path d="M482.2,139.2 H498.6" stroke="#20e0f0" stroke-width="0.8" stroke-dasharray="4 1"/>
<rect x="489.40" y="138.00" width="2.4" height="2.4" fill="#20e0f0" stroke="#20e0f0" stroke-width="0.55"/>
<text x="500.3" y="141.6" font-size="6.9">Case 6</text>
<path d="M482.2,147.7 H498.6" stroke="#f0208c" stroke-width="0.8" stroke-dasharray="2.5 1.5"/>
<path d="M490.60,146.14 L492.16,148.95 L489.04,148.95 Z" fill="#f0208c" stroke="#f0208c" stroke-width="0.55"/>
<text x="500.3" y="150.1" font-size="6.9">Case 7</text>
</svg></body></html>
